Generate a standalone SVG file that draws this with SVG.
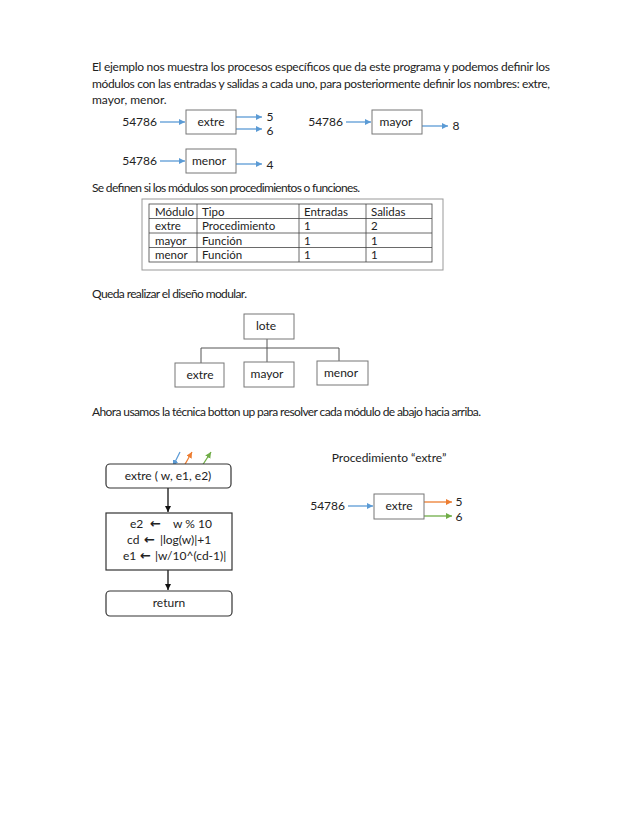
<svg xmlns="http://www.w3.org/2000/svg" width="638" height="826" viewBox="0 0 638 826">
<defs>
<style>
text{font-family:Lato,"Open Sans","Liberation Sans",sans-serif;font-size:12px;fill:#222}
.c{text-anchor:middle}
.e{text-anchor:end}
.t{font-size:11.5px}
.ar{font-family:"DejaVu Sans",sans-serif;font-weight:bold;font-size:13px}
.box{fill:#fff;stroke:#777;stroke-width:1}
.fb{fill:#fff;stroke:#333;stroke-width:1.2}
.ln{stroke:#555;stroke-width:1;fill:none}
.bl{stroke:#5B9BD5;stroke-width:1.3;fill:none}
.or{stroke:#ED7D31;stroke-width:1.3;fill:none}
.gr{stroke:#70AD47;stroke-width:1.3;fill:none}
.bk{stroke:#111;stroke-width:1.3;fill:none}
.tb{stroke:#444;stroke-width:0.8;fill:none}
</style>
<marker id="mb" markerWidth="8" markerHeight="8" refX="6" refY="3" orient="auto" markerUnits="userSpaceOnUse"><path d="M0,0 L6,3 L0,6z" fill="#5B9BD5"/></marker>
<marker id="mo" markerWidth="8" markerHeight="8" refX="6" refY="3" orient="auto" markerUnits="userSpaceOnUse"><path d="M0,0 L6,3 L0,6z" fill="#ED7D31"/></marker>
<marker id="mg" markerWidth="8" markerHeight="8" refX="6" refY="3" orient="auto" markerUnits="userSpaceOnUse"><path d="M0,0 L6,3 L0,6z" fill="#70AD47"/></marker>
<marker id="mk" markerWidth="8" markerHeight="8" refX="6" refY="3" orient="auto" markerUnits="userSpaceOnUse"><path d="M0,0 L6,3 L0,6z" fill="#111"/></marker>
</defs>
<rect width="638" height="826" fill="#fff"/>

<g id="paragraphs">
<text x="92" y="71" textLength="458" lengthAdjust="spacing">El ejemplo nos muestra los procesos específicos que da este programa y podemos definir los</text>
<text x="92" y="88" textLength="458" lengthAdjust="spacing">módulos con las entradas y salidas a cada uno, para posteriormente definir los nombres: extre,</text>
<text x="92" y="104">mayor, menor.</text>
<text x="92" y="192" textLength="268" lengthAdjust="spacing">Se definen si los módulos son procedimientos o funciones.</text>
<text x="92" y="298" textLength="155" lengthAdjust="spacing">Queda realizar el diseño modular.</text>
<text x="92" y="416" textLength="389" lengthAdjust="spacing">Ahora usamos la técnica botton up para resolver cada módulo de abajo hacia arriba.</text>
<text x="389" y="462" class="c">Procedimiento “extre”</text>
</g>

<g id="connectors">
<line x1="160" y1="122" x2="185" y2="122" class="bl" marker-end="url(#mb)"/>
<line x1="236" y1="117" x2="262" y2="117" class="bl" marker-end="url(#mb)"/>
<line x1="236" y1="129" x2="262" y2="129" class="bl" marker-end="url(#mb)"/>
<line x1="346" y1="122" x2="371" y2="122" class="bl" marker-end="url(#mb)"/>
<line x1="422" y1="126" x2="448" y2="126" class="bl" marker-end="url(#mb)"/>
<line x1="160" y1="161" x2="185" y2="161" class="bl" marker-end="url(#mb)"/>
<line x1="236" y1="164" x2="262" y2="164" class="bl" marker-end="url(#mb)"/>
<line x1="267" y1="339" x2="267" y2="362" class="ln"/>
<line x1="201" y1="348" x2="339" y2="348" class="ln"/>
<line x1="201" y1="348" x2="201" y2="363" class="ln"/>
<line x1="339" y1="348" x2="339" y2="361" class="ln"/>
<line x1="168" y1="488" x2="168" y2="512" class="bk" marker-end="url(#mk)"/>
<line x1="168" y1="570" x2="168" y2="590" class="bk" marker-end="url(#mk)"/>
<line x1="180" y1="452" x2="173" y2="466" class="bl" marker-end="url(#mb)"/>
<line x1="184" y1="466" x2="192" y2="452" class="or" marker-end="url(#mo)"/>
<line x1="202" y1="466" x2="211" y2="452" class="gr" marker-end="url(#mg)"/>
<line x1="348" y1="506" x2="373" y2="506" class="bl" marker-end="url(#mb)"/>
<line x1="424" y1="502" x2="452" y2="502" class="or" marker-end="url(#mo)"/>
<line x1="424" y1="516" x2="452" y2="516" class="gr" marker-end="url(#mg)"/>
</g>

<g id="labels">
<text x="157" y="126" class="e">54786</text>
<text x="270" y="121" class="c">5</text>
<text x="270" y="135" class="c">6</text>
<text x="343" y="126" class="e">54786</text>
<text x="456" y="130" class="c">8</text>
<text x="157" y="165" class="e">54786</text>
<text x="270" y="169" class="c">4</text>
<text x="345" y="510" class="e">54786</text>
<text x="459" y="506" class="c">5</text>
<text x="459" y="521" class="c">6</text>
</g>

<g id="n-extre"><rect x="186" y="110" width="50" height="24" class="box"/><text x="211" y="126" class="c">extre</text></g>
<g id="n-mayor"><rect x="372" y="110" width="50" height="24" class="box"/><text x="396" y="126" class="c">mayor</text></g>
<g id="n-menor"><rect x="186" y="149" width="50" height="24" class="box"/><text x="209" y="165" class="c">menor</text></g>

<g id="table">
<rect x="142" y="199" width="301" height="71" fill="#fff" stroke="#999" stroke-width="1"/>
<rect x="149" y="204" width="283" height="58" class="tb"/>
<line x1="149" y1="218.5" x2="432" y2="218.5" class="tb"/>
<line x1="149" y1="233" x2="432" y2="233" class="tb"/>
<line x1="149" y1="247.5" x2="432" y2="247.5" class="tb"/>
<line x1="197" y1="204" x2="197" y2="262" class="tb"/>
<line x1="299" y1="204" x2="299" y2="262" class="tb"/>
<line x1="366" y1="204" x2="366" y2="262" class="tb"/>
<text x="155" y="215.5" class="t">Módulo</text><text x="202" y="215.5" class="t">Tipo</text><text x="304" y="215.5" class="t">Entradas</text><text x="371" y="215.5" class="t">Salidas</text>
<text x="155" y="230" class="t">extre</text><text x="202" y="230" class="t">Procedimiento</text><text x="304" y="230" class="t">1</text><text x="371" y="230" class="t">2</text>
<text x="155" y="244.5" class="t">mayor</text><text x="202" y="244.5" class="t">Función</text><text x="304" y="244.5" class="t">1</text><text x="371" y="244.5" class="t">1</text>
<text x="155" y="259" class="t">menor</text><text x="202" y="259" class="t">Función</text><text x="304" y="259" class="t">1</text><text x="371" y="259" class="t">1</text>
</g>

<g id="n-lote"><rect x="244" y="314" width="50" height="25" class="box"/><text x="266" y="330" class="c">lote</text></g>
<g id="n-extre2"><rect x="175" y="363" width="49" height="24" class="box"/><text x="200" y="379" class="c">extre</text></g>
<g id="n-mayor2"><rect x="244" y="362" width="50" height="25" class="box"/><text x="267" y="378" class="c">mayor</text></g>
<g id="n-menor2"><rect x="317" y="361" width="51" height="24" class="box"/><text x="341" y="377" class="c">menor</text></g>

<g id="f-start"><rect x="106" y="464" width="125" height="24" rx="4" class="fb"/><text x="168" y="480" class="c">extre ( w, e1, e2)</text></g>
<g id="f-body"><rect x="106" y="513" width="126" height="57" class="fb"/>
<text x="130" y="528">e2</text><text x="150" y="528" class="ar">←</text><text x="173" y="528">w % 10</text>
<text x="127" y="544">cd</text><text x="144" y="544" class="ar">←</text><text x="160" y="544">|log(w)|+1</text>
<text x="123" y="560">e1</text><text x="140" y="560" class="ar">←</text><text x="155" y="560">|w/10^(cd-1)|</text></g>
<g id="f-return"><rect x="106" y="591" width="126" height="25" rx="4" class="fb"/><text x="169" y="607" class="c">return</text></g>

<g id="n-extre3"><rect x="374" y="494" width="50" height="25" class="box"/><text x="399" y="510" class="c">extre</text></g>
</svg>
